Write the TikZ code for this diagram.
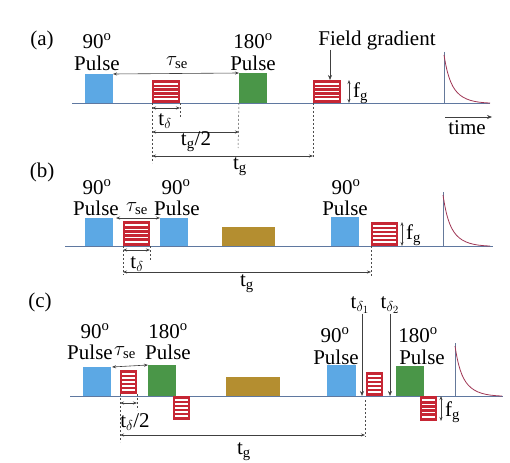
\documentclass[tikz,border=0pt]{standalone}
\usepackage{fontspec}
\setmainfont{Liberation Serif}
\usetikzlibrary{arrows.meta, positioning, calc}
\definecolor{pulseblue}{RGB}{92,168,228}
\definecolor{pulsegreen}{RGB}{74,150,72}
\definecolor{gradred}{RGB}{198,38,52}
\definecolor{spoilgold}{RGB}{180,142,48}
\definecolor{baseclr}{RGB}{95,120,160}
\definecolor{fidclr}{RGB}{160,55,85}
\tikzset{
  blk/.style={inner sep=0pt, outer sep=0pt},
  bw/.style={minimum width=#1pt},
  bh/.style={minimum height=#1pt},
  pblue/.style={blk, fill=pulseblue},
  pgreen/.style={blk, fill=pulsegreen},
  spoil/.style={blk, fill=spoilgold},
  grad/.style={blk, fill=gradred, path picture={
    \foreach \k in {1,...,5}
      \draw[white, line width=1.4pt]
        ($(path picture bounding box.north west)!\k/6!(path picture bounding box.south west)+(2pt,0)$) --
        ($(path picture bounding box.north east)!\k/6!(path picture bounding box.south east)+(-2pt,0)$);}},
  lbl/.style={font=\fontsize{21}{24}\selectfont, inner sep=0pt},
  baseln/.style={baseclr, line width=0.8pt},
  dim/.style={{Stealth[length=4pt,width=3pt]}-{Stealth[length=4pt,width=3pt]}, black!75, line width=0.6pt},
  onearr/.style={-{Stealth[length=5pt,width=4pt]}, black!75, line width=0.7pt},
  guide/.style={black!70, line width=0.5pt, dash pattern=on 2pt off 2pt},
  fidline/.style={baseclr!80!gray, line width=1pt},
  fid/.style={fidclr, line width=0.8pt}
}
\begin{document}
\begin{tikzpicture}[x=1pt,y=-1pt]
\useasboundingbox (0,0) rectangle (510,462);
\fill[white] (0,0) rectangle (510,462);

\coordinate (a0) at (72,103);
\coordinate (a1) at (490,103);
\draw[baseln] (a0) -- (a1);
\node[pblue, bw=28, bh=29, anchor=south west] (pa1) at (85,103) {};
\node[grad, bw=28, bh=23, anchor=south west] (ga1) at (152,103) {};
\node[pgreen, bw=28, bh=30, anchor=south west] (pa2) at (239,103) {};
\node[grad, bw=28, bh=23, anchor=south west] (ga2) at (313,103) {};
\node[lbl] (taga) at (42,40) {(a)};
\node[lbl] (dega1) at (97,41) {90\textsuperscript{o}};
\node[lbl] (pula1) at (97,63) {Pulse};
\node[lbl] (dega2) at (253,41) {180\textsuperscript{o}};
\node[lbl] (pula2) at (253,63) {Pulse};
\node[lbl] (tsea) at (177,63) {$\tau_{\mathrm{se}}$};
\node[lbl] (fgrad) at (377,40) {Field gradient};
\node[lbl, anchor=west] (fga) at (353,93) {f$_{\mathrm{g}}$};
\draw[dim] (pa1.north east) -- (pa2.north west);
\draw[onearr] (fgrad.south -| 330,0) -- (ga2.north -| 330,0);
\draw[dim] ([xshift=8pt]ga2.north east) -- ([xshift=8pt]ga2.south east);
\coordinate (fida) at (444,52);
\draw[fidline] (fida) -- (fida |- a1);
\draw[fid] (444,55) .. controls (450,92) and (458,102) .. (490,103);
\coordinate (time0) at (445,117);
\coordinate (time1) at (492,117);
\draw[onearr] (time0) -- (time1);
\node[lbl] (timea) at (467,128) {time};
\coordinate (tda) at (180,118);
\coordinate (tga0) at (152,163);
\coordinate (tha) at (238,148);
\coordinate (tgea) at (313,158);
\draw[guide] (ga1.south west) -- (tga0);
\draw[guide] (ga1.south east) -- (tda);
\draw[guide] (pa2.south west) -- (tha);
\draw[guide] (ga2.south west) -- (tgea);
\draw[dim] ([yshift=-5pt]ga1.south west) -- ([yshift=-5pt]ga1.south east);
\draw[dim] (152,132) -- (pa2.south west |- 0,132);
\draw[dim] (152,156) -- (ga2.south west |- 0,156);
\node[lbl] (tdela) at (165,121) {t$_\delta$};
\node[lbl] (thalfa) at (196,142) {t$_{\mathrm{g}}$/2};
\node[lbl] (tgla) at (240,167) {t$_{\mathrm{g}}$};

\coordinate (b0) at (65,246);
\coordinate (b1) at (493,246);
\draw[baseln] (b0) -- (b1);
\node[pblue, bw=28, bh=28, anchor=south west] (pb1) at (85,246) {};
\node[grad, bw=27, bh=25, anchor=south west] (gb1) at (123,246) {};
\node[pblue, bw=28, bh=28, anchor=south west] (pb2) at (160,246) {};
\node[spoil, bw=53, bh=19, anchor=south west] (sb) at (222,246) {};
\node[pblue, bw=28, bh=29, anchor=south west] (pb3) at (331,246) {};
\node[grad, bw=27, bh=24, anchor=south west] (gb2) at (371,246) {};
\node[lbl] (tagb) at (42,172) {(b)};
\node[lbl] (degb1) at (97,187) {90\textsuperscript{o}};
\node[lbl] (pulb1) at (96,208) {Pulse};
\node[lbl] (degb2) at (176,187) {90\textsuperscript{o}};
\node[lbl] (pulb2) at (177,208) {Pulse};
\node[lbl] (degb3) at (346,187) {90\textsuperscript{o}};
\node[lbl] (pulb3) at (345,208) {Pulse};
\node[lbl] (tseb) at (137,209) {$\tau_{\mathrm{se}}$};
\draw[dim] ([xshift=3pt]pb1.north east) -- (pb2.north west);
\draw[dim] ([xshift=4pt]gb2.north east) -- ([xshift=4pt]gb2.south east);
\node[lbl, anchor=west] (fgb) at (406,235) {f$_{\mathrm{g}}$};
\coordinate (fidb) at (443,192);
\draw[fidline] (fidb) -- (fidb |- b1);
\draw[fid] (443,195) .. controls (449,235) and (457,245) .. (490,246);
\coordinate (tdb) at (150,260);
\coordinate (tgb0) at (123,275);
\coordinate (tgeb) at (371,277);
\draw[guide] (gb1.south west) -- (tgb0);
\draw[guide] (gb1.south east) -- (tdb);
\draw[guide] (gb2.south west) -- (tgeb);
\draw[dim] ([yshift=-4pt]gb1.south west) -- ([yshift=-4pt]gb1.south east);
\draw[dim] (123,272) -- (gb2.south west |- 0,272);
\node[lbl] (tdelb) at (137,264) {t$_\delta$};
\node[lbl] (tglb) at (247,284) {t$_{\mathrm{g}}$};

\coordinate (c0) at (70,396);
\coordinate (c1) at (503,396);
\draw[baseln] (c0) -- (c1);
\node[pblue, bw=28, bh=29, anchor=south west] (pc1) at (83,396) {};
\node[grad, bw=17, bh=24, anchor=south west] (gc1) at (120,394) {};
\node[pgreen, bw=28, bh=31, anchor=south west] (pc2) at (148,396) {};
\node[grad, bw=17, bh=24, anchor=north west] (gc2) at (173,396) {};
\node[spoil, bw=54, bh=19, anchor=south west] (sc) at (226,396) {};
\node[pblue, bw=29, bh=31, anchor=south west] (pc3) at (327,396) {};
\node[grad, bw=17, bh=24, anchor=south west] (gc3) at (366,396) {};
\node[pgreen, bw=28, bh=30, anchor=south west] (pc4) at (396,396) {};
\node[grad, bw=17, bh=25, anchor=north west] (gc4) at (420,396) {};
\node[lbl] (tagc) at (40,302) {(c)};
\node[lbl] (degc1) at (95,331) {90\textsuperscript{o}};
\node[lbl] (pulc1) at (90,352) {Pulse};
\node[lbl] (tsec) at (125,353) {$\tau_{\mathrm{se}}$};
\node[lbl] (degc2) at (168,331) {180\textsuperscript{o}};
\node[lbl] (pulc2) at (168,352) {Pulse};
\node[lbl] (degc3) at (335,335) {90\textsuperscript{o}};
\node[lbl] (pulc3) at (336,357) {Pulse};
\node[lbl] (degc4) at (418,335) {180\textsuperscript{o}};
\node[lbl] (pulc4) at (422,357) {Pulse};
\node[lbl] (td1) at (360,305) {t$_{\delta_1}$};
\node[lbl] (td2) at (390,305) {t$_{\delta_2}$};
\draw[onearr] (td1.south -| 362,0) -- (362,396);
\draw[onearr] (td2.south -| 390,0) -- (390,396);
\draw[dim] ([xshift=1pt]pc1.north east) -- (pc2.north west);
\draw[dim] ([xshift=4pt]gc4.north east) -- ([xshift=4pt]gc4.south east);
\node[lbl, anchor=west] (fgc) at (445,412) {f$_{\mathrm{g}}$};
\coordinate (fidc) at (455,343);
\draw[fidline] (fidc) -- (fidc |- c1);
\draw[fid] (455,346) .. controls (461,385) and (469,395) .. (502,396);
\coordinate (tdc) at (137,410);
\coordinate (tgc0) at (120,442);
\coordinate (tgec0) at (365,400);
\coordinate (tgec) at (365,437);
\draw[guide] (gc1.south west) -- (tgc0);
\draw[guide] (gc1.south east) -- (tdc);
\draw[guide] (tgec0) -- (tgec);
\draw[dim] (120,403) -- (137,403);
\draw[dim] (120,435) -- (tgec |- 0,435);
\node[lbl] (tdhc) at (135,422) {t$_\delta$/2};
\node[lbl] (tglc) at (244,452) {t$_{\mathrm{g}}$};
\end{tikzpicture}
\end{document}
